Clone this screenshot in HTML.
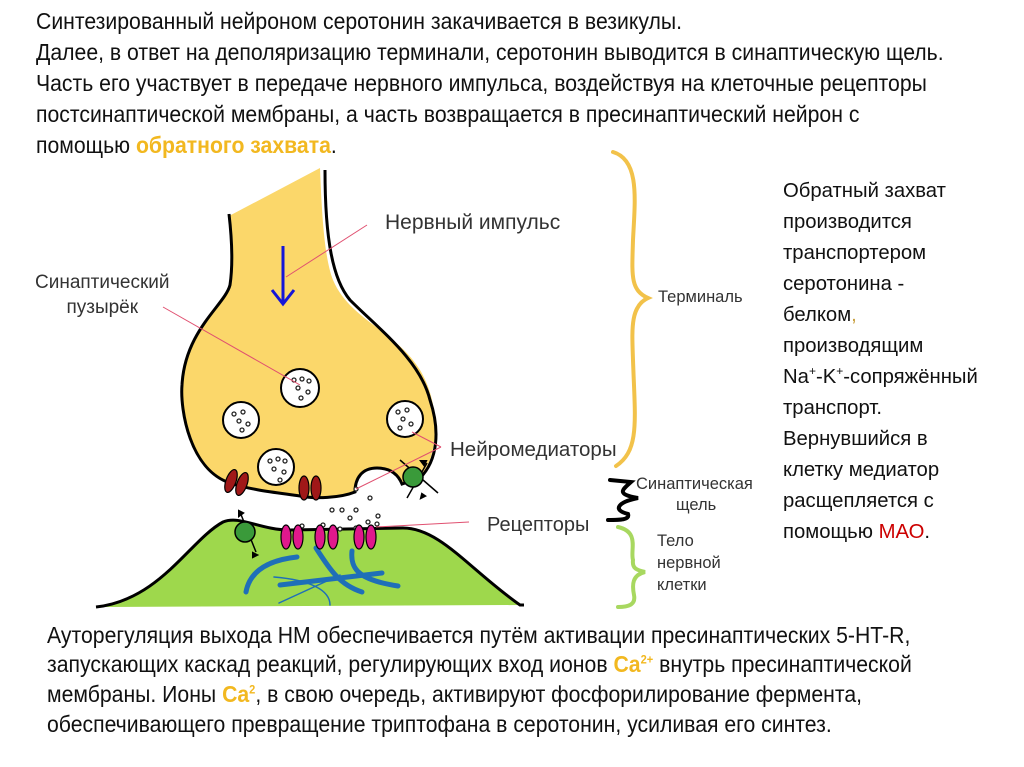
<!DOCTYPE html>
<html><head><meta charset="utf-8"><style>
body{margin:0;background:#fff;}
#w{position:relative;width:1024px;height:767px;overflow:hidden;background:#fff;font-family:"Liberation Sans",sans-serif;color:#111;}
.n{position:absolute;white-space:nowrap;font-size:23px;transform-origin:0 0;transform:scaleX(0.922);}
.o{color:#f2b820;font-weight:bold;}
.r{position:absolute;left:783px;font-size:20.3px;line-height:31px;top:176px;}
.r sup{font-size:12px;line-height:0;}
.l{position:absolute;white-space:nowrap;color:#333;}
</style></head><body><div id="w">
<div class="n" style="left:36px;top:8px">Синтезированный нейроном серотонин закачивается в везикулы.</div>
<div class="n" style="left:36px;top:39px">Далее, в ответ на деполяризацию терминали, серотонин выводится в синаптическую щель.</div>
<div class="n" style="left:36px;top:70px">Часть его участвует в передаче нервного импульса, воздействуя на клеточные рецепторы</div>
<div class="n" style="left:36px;top:101px">постсинаптической мембраны, а часть возвращается в пресинаптический нейрон с</div>
<div class="n" style="left:36px;top:132px">помощью <span class="o">обратного захвата</span>.</div>

<div class="r">Обратный захват<br>производится<br>транспортером<br>серотонина -<br>белком<span style="color:#c9a040">,</span><br>производящим<br>Na<sup>+</sup>-K<sup>+</sup>-сопряжённый<br>транспорт.<br>Вернувшийся в<br>клетку медиатор<br>расщепляется с<br>помощью <span style="color:#c00">МАО</span>.</div>

<svg style="position:absolute;left:0;top:0" width="1024" height="767">
<path d="M100,607 C160,600 190,540 223,522 C240,515 260,530 290,530 L403,528 C440,528 470,570 522,605 Z" fill="#9ed84c"/>
<path d="M96,607 C160,600 190,540 223,522 C240,515 260,530 290,530 L403,528 C440,528 470,570 520,605 L524,605" fill="none" stroke="#000" stroke-width="3"/>
<g stroke="#1f6fb8" fill="none" stroke-linecap="round">
<path d="M246,592 C250,570 270,560 297,557" stroke-width="5"/>
<path d="M316,548 C330,570 340,585 362,592" stroke-width="5"/>
<path d="M352,551 C350,570 360,580 398,586" stroke-width="5"/>
<path d="M280,585 L382,573" stroke-width="5"/>
<path d="M274,577 C310,580 330,590 330,605" stroke-width="1.5"/>
<path d="M279,603 L340,575" stroke-width="1.5"/>
</g>
<path d="M229,216 L320,168 C322,220 325,260 333,280 C350,320 395,330 420,370 C435,395 440,430 430,460 C427,466 424,472 420,478 L402,484 C398,474 390,468 377,468 C362,468 355,478 355,492 C335,498 310,499 300,496 C280,493 250,490 230,483 C190,470 180,410 182,385 C185,330 225,305 230,285 C234,260 232,230 229,216 Z" fill="#fbd76a"/>
<path d="M229,214 C232,240 233,265 230,285 C225,305 185,330 182,385 C180,410 190,470 230,483 C250,490 280,493 300,496 C315,499 340,498 355,492 C355,478 362,468 377,468 C390,468 398,474 402,484 L420,478 C438,460 440,430 430,400 C420,360 380,330 350,300 C333,280 325,240 325,170" fill="none" stroke="#000" stroke-width="3"/>
<g fill="#fff" stroke="#000" stroke-width="2">
<circle cx="300" cy="388" r="19"/><circle cx="241" cy="420" r="18"/><circle cx="405" cy="419" r="18"/><circle cx="276" cy="467" r="18"/>
</g>
<g fill="#fff" stroke="#222" stroke-width="1.3">
<circle cx="294" cy="380" r="2"/><circle cx="302" cy="379" r="2"/><circle cx="309" cy="381" r="2"/><circle cx="298" cy="388" r="2"/><circle cx="308" cy="392" r="2"/><circle cx="301" cy="398" r="2"/>
<circle cx="234" cy="414" r="2"/><circle cx="243" cy="412" r="2"/><circle cx="239" cy="421" r="2"/><circle cx="248" cy="424" r="2"/><circle cx="242" cy="430" r="2"/>
<circle cx="398" cy="412" r="2"/><circle cx="407" cy="410" r="2"/><circle cx="403" cy="419" r="2"/><circle cx="411" cy="424" r="2"/><circle cx="400" cy="428" r="2"/>
<circle cx="270" cy="461" r="2"/><circle cx="278" cy="459" r="2"/><circle cx="285" cy="461" r="2"/><circle cx="274" cy="469" r="2"/><circle cx="284" cy="472" r="2"/><circle cx="280" cy="480" r="2"/>
<circle cx="356" cy="489" r="2"/><circle cx="370" cy="498" r="2"/><circle cx="332" cy="510" r="2"/><circle cx="342" cy="510" r="2"/><circle cx="356" cy="510" r="2"/><circle cx="350" cy="518" r="2"/><circle cx="378" cy="516" r="2"/><circle cx="377" cy="524" r="2"/><circle cx="302" cy="526" r="2"/><circle cx="323" cy="525" r="2"/><circle cx="340" cy="529" r="2"/><circle cx="356" cy="528" r="2"/><circle cx="368" cy="522" r="2"/>
</g>
<g fill="#a01818" stroke="#000" stroke-width="1.2">
<ellipse cx="231" cy="481" rx="5" ry="12" transform="rotate(20 231 481)"/><ellipse cx="242" cy="484" rx="5" ry="12" transform="rotate(20 242 484)"/>
<ellipse cx="304" cy="488" rx="5" ry="12"/><ellipse cx="316" cy="488" rx="5" ry="12"/>
</g>
<g fill="#e0188c" stroke="#000" stroke-width="1.2">
<ellipse cx="286" cy="537" rx="5" ry="12"/><ellipse cx="298" cy="537" rx="5" ry="12"/>
<ellipse cx="320" cy="537" rx="5" ry="12"/><ellipse cx="333" cy="537" rx="5" ry="12"/>
<ellipse cx="359" cy="537" rx="5" ry="12"/><ellipse cx="371" cy="537" rx="5" ry="12"/>
</g>
<g stroke="#000" stroke-width="1.5">
<line x1="400" y1="460" x2="438" y2="493"/><line x1="407" y1="498" x2="427" y2="463"/>
<line x1="240" y1="512" x2="256" y2="552"/>
</g>
<circle cx="413" cy="477" r="10" fill="#3a9a3a" stroke="#000" stroke-width="1.5"/>
<circle cx="245" cy="532" r="10" fill="#3a9a3a" stroke="#000" stroke-width="1.5"/>
<path d="M426,461 l-5,0 l3,4z M422,494 l-1,4 l4,-2z M239,511 l0,5 l4,-3z M257,555 l-4,-2 l0,4z" fill="#000" stroke="#000" stroke-width="2"/>
<line x1="283" y1="246" x2="283" y2="303" stroke="#1515d8" stroke-width="3"/>
<path d="M272,290 L283,304 L294,290" fill="none" stroke="#1515d8" stroke-width="3"/>
<g stroke="#e05070" stroke-width="1" fill="none">
<line x1="286" y1="277" x2="367" y2="225"/>
<line x1="163" y1="307" x2="300" y2="385"/>
<line x1="412" y1="432" x2="441" y2="447"/>
<line x1="441" y1="447" x2="356" y2="489"/>
<line x1="376" y1="527" x2="469" y2="522"/>
</g>
<path d="M613,152 C640,160 635,200 633,240 C632,275 630,290 648,298 C630,306 632,330 633,360 C635,420 640,450 616,466" fill="none" stroke="#f2c24a" stroke-width="4" stroke-linecap="round"/>
<path d="M610,480 L631,482 C622,490 616,494 638,498 C618,502 612,510 628,514 C630,520 620,520 608,520" fill="none" stroke="#000" stroke-width="4" stroke-linecap="round"/>
<path d="M618,527 C640,532 630,550 633,560 C632,568 636,570 645,572 C632,575 632,585 634,595 C636,605 628,607 618,607" fill="none" stroke="#a8d860" stroke-width="4" stroke-linecap="round"/>
</svg>

<div class="l" style="left:385px;top:211px;font-size:21px">Нервный импульс</div>
<div class="l" style="left:35px;top:270px;font-size:19px;text-align:center;line-height:25px">Синаптический<br>пузырёк</div>
<div class="l" style="left:450px;top:438px;font-size:20.5px">Нейромедиаторы</div>
<div class="l" style="left:487px;top:514px;font-size:20px">Рецепторы</div>
<div class="l" style="left:658px;top:288px;font-size:16.5px">Терминаль</div>
<div class="l" style="left:636px;top:475px;font-size:16.5px">Синаптическая</div>
<div class="l" style="left:676px;top:496px;font-size:16.5px">щель</div>
<div class="l" style="left:657px;top:530px;font-size:16.5px;line-height:22px">Тело<br>нервной<br>клетки</div>

<div class="n" style="left:47px;top:622px">Ауторегуляция выхода НМ обеспечивается путём активации пресинаптических 5-HT-R,</div>
<div class="n" style="left:47px;top:651px">запускающих каскад реакций, регулирующих вход ионов <span class="o">Ca<sup style="font-size:12px;line-height:0">2+</sup></span> внутрь пресинаптической</div>
<div class="n" style="left:47px;top:681px">мембраны. Ионы <span class="o">Ca<sup style="font-size:12px;line-height:0">2</sup></span>, в свою очередь, активируют фосфорилирование фермента,</div>
<div class="n" style="left:47px;top:711px">обеспечивающего превращение триптофана в серотонин, усиливая его синтез.</div>
</div></body></html>
